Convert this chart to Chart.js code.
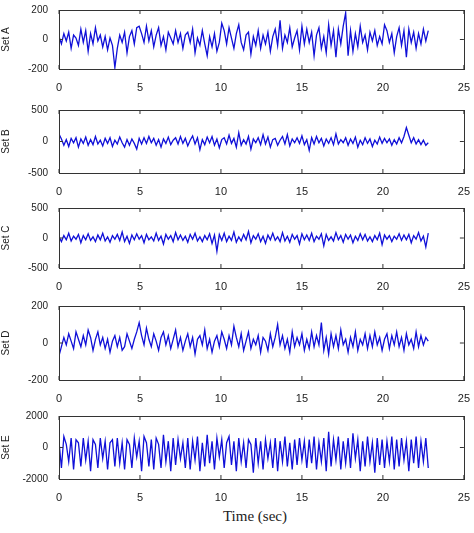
<!DOCTYPE html>
<html><head><meta charset="utf-8">
<script src="https://cdn.jsdelivr.net/npm/chart.js@4"></script>
<style>
html,body{margin:0;padding:0;background:#fff;width:474px;height:533px;overflow:hidden}
.p{position:absolute;left:0;width:474px}
#xt{position:absolute;top:508px;left:0;width:510px;text-align:center;font:15px "Liberation Serif",serif;color:#222}
</style></head><body>
<div class="p" id="w0"><canvas id="c0"></canvas></div>
<div class="p" id="w1"><canvas id="c1"></canvas></div>
<div class="p" id="w2"><canvas id="c2"></canvas></div>
<div class="p" id="w3"><canvas id="c3"></canvas></div>
<div class="p" id="w4"><canvas id="c4"></canvas></div>
<div id="xt">Time (sec)</div>
<script>
const setNames = ["Set A","Set B","Set C","Set D","Set E"];
const yLimits = [200,500,500,200,2000];
const xTicks = [0,5,10,15,20,25];
const timeStep = 0.15;
const setA = [20,-30,40,-10,50,-60,30,10,-40,70,-20,60,-80,40,-30,80,-10,
30,-50,20,-70,10,-40,-190,-60,30,-20,50,-90,20,60,-30,80,90,
40,-20,90,-10,60,-50,30,80,-40,20,-70,50,10,-30,60,-20,40,
-60,30,50,-20,70,-90,10,-40,60,-30,-110,20,-50,40,-80,-20,110,
60,-30,80,10,-60,40,100,-20,-70,30,50,-100,20,-40,60,-60,30,
-30,50,-80,20,70,-40,130,-60,30,-20,80,-50,10,60,-70,90,-30,
70,-20,50,-110,30,80,-60,20,-90,100,-40,60,-120,70,-30,90,180,
-110,60,-80,40,-50,90,-20,30,-70,50,-10,60,-40,20,-30,100,60,
-20,40,-90,20,80,-40,60,-120,70,-20,50,-60,40,-30,70,-10,60];
const setB = [120,40,-60,30,-80,50,-20,60,-90,40,-30,70,-60,30,-50,80,-40,
20,-70,50,-30,60,-80,20,-40,70,-20,-90,30,-60,40,-30,-120,50,
-40,60,-30,80,-20,50,-60,30,-90,40,-30,70,-50,20,60,-40,80,
-30,50,-70,20,90,-40,60,-130,30,-50,70,-20,80,-60,40,-100,30,
60,-40,100,-30,50,-90,140,-60,30,-40,80,-120,40,-20,60,-50,110,
-40,70,-90,30,50,-60,20,80,-40,110,-70,40,-20,60,-30,90,-50,
30,-140,60,-40,80,-20,50,-70,40,-30,60,-50,120,-40,30,-20,60,
-60,40,-30,70,-90,20,-50,60,-30,40,-80,20,-40,70,-30,50,-20,
40,-60,30,-40,60,-20,80,220,100,-20,60,-40,30,-50,20,-60,-20];
const setC = [20,-60,40,-30,80,-50,30,-20,60,-80,40,-30,70,-40,20,-60,50,
-30,80,-50,20,-70,40,-20,60,-40,100,-60,30,-90,50,-30,70,-20,
40,-80,60,-30,20,-50,80,-40,30,-100,60,-20,40,-60,90,-30,50,
-40,30,-70,60,-20,80,-50,20,-60,40,-30,70,-90,50,-220,60,-40,
80,-60,30,-40,100,-70,20,-50,60,-30,110,-80,40,-20,70,-60,30,
-90,50,-30,80,-40,20,-60,90,-50,30,-70,60,-20,40,-100,70,-30,
50,-40,80,-60,30,-20,70,-130,60,-40,20,-50,90,-30,40,-70,60,
-20,50,-80,30,-40,70,-30,60,-50,20,-60,40,-30,80,-110,50,-20,
40,-60,30,-20,70,-40,50,-30,60,-80,40,-20,90,-50,30,-150,80];
const setD = [-70,-20,30,-10,50,10,-30,60,20,-20,40,-10,70,30,-40,20,60,
-10,30,-30,20,-50,10,40,-20,30,-40,-20,50,10,-30,20,60,110,
40,-10,80,20,-20,50,10,-40,30,60,-10,40,-30,20,70,-20,30,
-40,10,50,-20,30,-60,20,40,-10,70,-30,20,-50,10,40,-20,60,
20,-30,40,-10,90,30,-20,50,-40,10,60,-30,20,-10,40,-50,30,
10,-40,50,-20,30,100,-10,40,-30,20,-50,60,-20,30,-10,50,-40,
20,-30,60,-20,40,-10,110,-40,30,-60,50,-20,40,-30,70,-10,20,
-50,30,-20,60,-40,20,-10,50,-30,40,-20,60,-10,30,-40,20,50,
-30,40,-10,60,-20,30,-40,50,-10,20,-30,60,-20,40,-10,30,10];
const setE = [400,-1300,700,200,-900,600,-1400,500,300,-1200,600,-800,400,-1500,500,200,-1300,
600,-700,400,-1400,300,500,-1200,600,-1000,300,-1400,500,200,-1300,600,-600,400,
-1500,700,300,-1200,500,-1400,600,200,-1300,800,-900,400,-1500,600,-1100,500,-700,
300,-1300,600,-1400,400,-800,700,-1500,300,-1200,800,-1000,400,-1400,600,-600,500,
-1300,300,700,-1100,400,-1500,600,-900,300,-1300,500,200,-1600,600,-1000,400,-1400,
500,-700,300,-1300,600,-1500,400,-900,700,-1200,300,-1400,500,-1100,600,-800,400,
-1300,500,-1000,700,-1400,300,-900,600,-1500,1000,-1200,500,-800,700,-1400,400,-1000,
600,-1300,900,-700,500,-1500,400,-1200,700,-900,300,-1600,600,-1100,500,-1300,400,
-900,700,-1400,500,-1200,600,-800,400,-1500,500,-1000,700,-1300,400,-900,600,-1300];
const allSets = [setA,setB,setC,setD,setE];
const panels = [[7,69],[107,173],[205,268],[303,380],[413,479]];
const PADT=6, XH=22, LEFT=59, RIGHT=10;
const frame = {id:'frame',afterDraw(ch){const a=ch.chartArea,c=ch.ctx;c.save();c.strokeStyle='#333';c.lineWidth=1;
  c.strokeRect(Math.round(a.left)+0.5,Math.round(a.top)+0.5,Math.round(a.right-a.left),Math.round(a.bottom-a.top));
  c.beginPath();const y0=ch.scales.y.getPixelForValue(0);c.moveTo(a.right,y0);c.lineTo(a.right-4,y0);
  ch.scales.x.ticks.forEach(t=>{const x=ch.scales.x.getPixelForValue(t.value);c.moveTo(x,a.top);c.lineTo(x,a.top+4);c.moveTo(x,a.bottom);c.lineTo(x,a.bottom-4);});
  c.moveTo(a.left,y0);c.lineTo(a.left+4,y0);c.stroke();c.restore();}};
allSets.forEach((vals,i)=>{
  const [t,b]=panels[i]; const h=b-t+PADT+XH;
  const w=document.getElementById('w'+i); w.style.top=(t-PADT)+'px'; w.style.height=h+'px';
  const lim=yLimits[i];
  new Chart(document.getElementById('c'+i),{type:'line',
    data:{datasets:[{data:vals.map((v,k)=>({x:k*timeStep,y:v})),borderColor:'#1010d8',borderWidth:1.3,pointRadius:0,tension:0}]},
    options:{responsive:true,maintainAspectRatio:false,animation:false,
      layout:{padding:{top:PADT,right:RIGHT,left:0,bottom:0}},
      plugins:{legend:{display:false},tooltip:{enabled:false}},
      scales:{
        x:{type:'linear',min:0,max:25,afterBuildTicks(s){s.ticks=xTicks.map(v=>({value:v}));},
          afterFit(s){s.height=XH;},grid:{display:false},border:{display:false},
          ticks:{color:'#222',font:{family:'Liberation Sans',size:11},padding:4,maxRotation:0,callback:v=>String(v)}},
        y:{min:-lim,max:lim,afterBuildTicks(s){s.ticks=[-lim,0,lim].map(v=>({value:v}));},
          afterFit(s){s.width=LEFT;},grid:{display:false},border:{display:false},
          title:{display:true,text:setNames[i],color:'#222',font:{family:'Liberation Sans',size:10},padding:{top:0,bottom:8}},
          ticks:{color:'#222',font:{family:'Liberation Sans',size:10},padding:3,callback:v=>String(v)}}
      }},plugins:[frame]});
});
</script></body></html>
